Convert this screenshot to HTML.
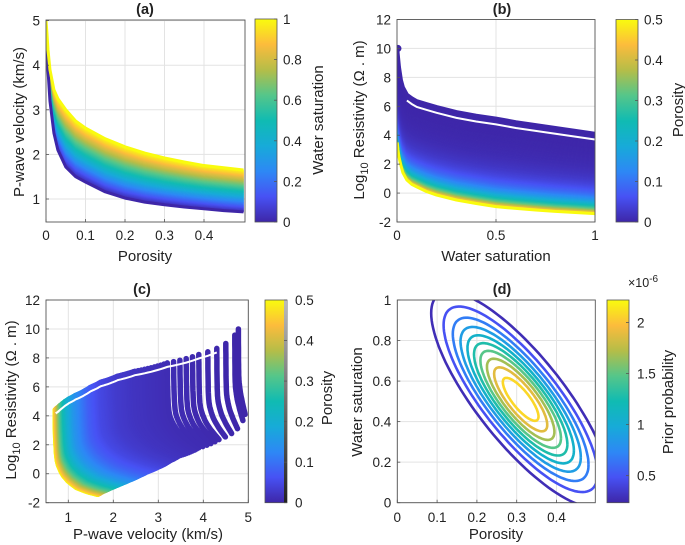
<!DOCTYPE html>
<html><head><meta charset="utf-8">
<style>
html,body{margin:0;padding:0;background:#fff;}
svg{display:block;font-family:"Liberation Sans",Arial,sans-serif;}
text{fill:#222;}
</style></head>
<body>
<svg id="chart" width="685" height="545" viewBox="0 0 685 545" xmlns="http://www.w3.org/2000/svg">
<defs>
<clipPath id="clipA"><rect x="46" y="20" width="199" height="202"/></clipPath>
<clipPath id="clipB"><rect x="397" y="19.5" width="198" height="202.5"/></clipPath>
<clipPath id="clipC"><rect x="46" y="300" width="202.3" height="202.7"/></clipPath>
<clipPath id="clipD"><rect x="397.3" y="300" width="198" height="202.7"/></clipPath>
</defs>
</svg>
<script>
// ---------- data ----------
// Panel (a): porosity samples, P-wave velocity at Sw=1 (upper) and Sw=0 (lower)
const phiA   = [0, 0.0025, 0.005, 0.01, 0.02, 0.03, 0.05, 0.075, 0.1, 0.15, 0.2, 0.25, 0.3, 0.35, 0.4, 0.45, 0.5];
const velUpA = [5.0, 4.7, 4.35, 3.9, 3.45, 3.25, 3.0, 2.75, 2.59, 2.35, 2.17, 2.03, 1.92, 1.83, 1.75, 1.7, 1.65];
const velLoA = [4.9, 4.4, 3.9, 3.2, 2.48, 2.1, 1.72, 1.5, 1.38, 1.16, 1.02, 0.93, 0.87, 0.82, 0.78, 0.74, 0.71];
// Panel (b): water saturation samples, log10 resistivity at min porosity (top) and porosity 0.5 (bottom)
const swB    = [0.001, 0.005, 0.01, 0.02, 0.03, 0.05, 0.075, 0.1, 0.15, 0.2, 0.3, 0.4, 0.5, 0.6, 0.7, 0.8, 0.9, 1.0];
const resTopB= [10.0, 9.4, 8.7, 7.8, 7.3, 6.8, 6.55, 6.35, 6.15, 5.95, 5.6, 5.35, 5.15, 4.9, 4.7, 4.5, 4.3, 4.1];
const resBotB= [3.5, 3.0, 2.5, 1.9, 1.4, 0.9, 0.6, 0.43, 0.1, -0.14, -0.48, -0.72, -0.94, -1.06, -1.17, -1.27, -1.34, -1.42];
const phiMin = 0.0006;
const phiMax = 0.5;
// Panel (d): prior Gaussian parameters and contour levels (x1e-6)
const priorMean  = [0.31, 0.51];
const priorStd   = [0.11, 0.26];
const priorRho   = -0.8;
const priorPeak  = 2.26;
const cbarMin    = 0.235;
const cbarMax    = 2.22;
const contourLevels = [0.28, 0.48, 0.68, 0.88, 1.08, 1.28, 1.48, 1.68, 1.88, 2.08];
// tick labels
const ticksAx = [0, 0.1, 0.2, 0.3, 0.4];
const ticksAy = [1, 2, 3, 4, 5];
const ticksBx = [0, 0.5, 1];
const ticksRy = [-2, 0, 2, 4, 6, 8, 10, 12];
const ticksCx = [1, 2, 3, 4, 5];
const ticksDx = [0, 0.1, 0.2, 0.3, 0.4];
const ticksDy = [0, 0.2, 0.4, 0.6, 0.8, 1];
const cbTicksA = [0, 0.2, 0.4, 0.6, 0.8, 1];
const cbTicksPor = [0, 0.1, 0.2, 0.3, 0.4, 0.5];
const cbTicksD = [0.5, 1, 1.5, 2];

// ---------- helpers ----------
const NS = "http://www.w3.org/2000/svg";
const svg = document.getElementById('chart');
function mk(tag, name, attrs, parent){
  const e = document.createElementNS(NS, tag);
  
  
  for (const k in attrs) e.setAttribute(k, attrs[k]);
  (parent || svg).appendChild(e);
  return e;
}
const PAR = ['#3e26a8','#4752f4','#2d88f5','#17abd8','#10bbb2','#55c68a','#b5bd48','#fcbc3c','#f9fb0e'];
function hex(h){return [parseInt(h.substr(1,2),16),parseInt(h.substr(3,2),16),parseInt(h.substr(5,2),16)];}
function parula(t){
  t = Math.max(0, Math.min(1, t));
  const p = t*(PAR.length-1), i = Math.min(PAR.length-2, Math.floor(p)), f = p - i;
  const a = hex(PAR[i]), b = hex(PAR[i+1]);
  return 'rgb(' + [0,1,2].map(k => Math.round(a[k]+(b[k]-a[k])*f)).join(',') + ')';
}
function interp(xs, ys, x){
  if (x <= xs[0]) return ys[0];
  for (let i=1;i<xs.length;i++){ if (x <= xs[i]) { const f=(x-xs[i-1])/(xs[i]-xs[i-1]); return ys[i-1]+f*(ys[i]-ys[i-1]); } }
  return ys[ys.length-1];
}
function lin(d0,d1,r0,r1){ return v => r0 + (v-d0)/(d1-d0)*(r1-r0); }

// scales
const xA = lin(0, 0.5, 46, 243.5), yA = lin(1, 5, 199, 20.6);
const xB = lin(0, 1, 397, 595),    yB = lin(-2, 12, 222, 19.5);
const xC = lin(1, 5, 68.3, 248.3), yC = lin(-2, 12, 502.7, 300);
const xD = lin(0, 0.4, 397.3, 556.5), yD = lin(0, 1, 502.7, 300);

function grid(name, box, xt, yt, xs, ys){
  const g = mk('g', name + '-grid', {});
  xt.forEach(v => { mk('line', name + '-x-gridline', {x1:xs(v),x2:xs(v),y1:box[1],y2:box[3],stroke:'#e3e3e3','stroke-width':1}, g); });
  yt.forEach(v => { mk('line', name + '-y-gridline', {x1:box[0],x2:box[2],y1:ys(v),y2:ys(v),stroke:'#e3e3e3','stroke-width':1}, g); });
}
function frame(name, box, xt, yt, xs, ys, xfmt, yfmt, tickY){
  const g = mk('g', name + '-axes', {});
  mk('rect', name + '-axes-box', {x:box[0],y:box[1],width:box[2]-box[0],height:box[3]-box[1],fill:'none',stroke:'#555','stroke-width':0.9}, g);
  xt.forEach(v => {
    mk('line', name + '-x-tick', {x1:xs(v),x2:xs(v),y1:box[3],y2:box[3]-3,stroke:'#555','stroke-width':0.8}, g);
    const t = mk('text', name + '-x-tick-label', {x:xs(v),y:tickY,'text-anchor':'middle','font-size':13.5}, g);
    t.textContent = xfmt(v);
  });
  yt.forEach(v => {
    mk('line', name + '-y-tick', {x1:box[0],x2:box[0]+3,y1:ys(v),y2:ys(v),stroke:'#555','stroke-width':0.8}, g);
    const t = mk('text', name + '-y-tick-label', {x:box[0]-6,y:ys(v)+5,'text-anchor':'end','font-size':13.5}, g);
    t.textContent = yfmt(v);
  });
}
function text(name, x, y, str, opts){
  const t = mk('text', name, Object.assign({x:x,y:y,'text-anchor':'middle','font-size':15}, opts||{}));
  t.textContent = str;
  return t;
}
function vtext(name, x, y, str, size){
  const t = mk('text', name, {x:0,y:0,'text-anchor':'middle','font-size':size||15,transform:'translate('+x+','+y+') rotate(-90)'});
  t.textContent = str;
  return t;
}
let gid = 0;
function colorbar(name, x0, x1, y0, y1, ticks, vmin, vmax, labelX, grayStrip){
  const id = 'cbg' + (gid++);
  const defs = svg.querySelector('defs');
  const lg = mk('linearGradient', name + '-gradient', {id:id,x1:0,y1:1,x2:0,y2:0}, defs);
  for (let i=0;i<=24;i++){ mk('stop', name + '-gradient-stop', {offset:(i/24),'stop-color':parula(i/24)}, lg); }
  const g = mk('g', name, {});
  mk('rect', name + '-bar', {x:x0,y:y0,width:x1-x0,height:y1-y0,fill:'url(#'+id+')',stroke:'#555','stroke-width':0.8}, g);
  if (grayStrip){
    const gid2 = 'cbgray' + (gid++);
    const lg2 = mk('linearGradient', name + '-gray-gradient', {id:gid2,x1:0,y1:1,x2:0,y2:0}, defs);
    mk('stop', name + '-gray-stop', {offset:0,'stop-color':'#222'}, lg2);
    mk('stop', name + '-gray-stop', {offset:1,'stop-color':'#bbb'}, lg2);
    mk('rect', name + '-gray-strip', {x:x1-3,y:y0,width:3,height:y1-y0,fill:'url(#'+gid2+')'}, g);
  }
  const s = lin(vmin, vmax, y1, y0);
  ticks.forEach(v => {
    mk('line', name + '-tick', {x1:x1-3,x2:x1,y1:s(v),y2:s(v),stroke:'#555','stroke-width':0.8}, g);
    const t = mk('text', name + '-tick-label', {x:labelX,y:s(v)+5,'font-size':13.5}, g);
    t.textContent = String(v);
  });
}
const fmt = v => String(v);

// ================= Panel (a) =================
const boxA = [46, 20, 245, 222];
grid('panel-a', boxA, ticksAx, ticksAy, xA, yA);
const gA = mk('g', 'panel-a-scatter', {'clip-path':'url(#clipA)'});
const NA = 50;
for (let i=0;i<NA;i++){
  const s0 = i/NA, s1 = (i+1)/NA;
  const pts = [];
  phiA.forEach((p,k) => pts.push(xA(p)+','+yA(velLoA[k]+s1*(velUpA[k]-velLoA[k]))));
  for (let k=phiA.length-1;k>=0;k--) pts.push(xA(phiA[k])+','+yA(velLoA[k]+s0*(velUpA[k]-velLoA[k])));
  const c = parula((s0+s1)/2);
  mk('polygon', 'panel-a-saturation-band', {points:pts.join(' '),fill:c,stroke:c,'stroke-width':0.6}, gA);
}
mk('polyline', 'panel-a-lower-edge', {points:phiA.map((p,k)=>xA(p)+','+yA(velLoA[k])).join(' '),fill:'none',stroke:parula(0),'stroke-width':3,'stroke-linejoin':'round'}, gA);
mk('polyline', 'panel-a-upper-edge', {points:phiA.map((p,k)=>xA(p)+','+yA(velUpA[k])).join(' '),fill:'none',stroke:parula(1),'stroke-width':3,'stroke-linejoin':'round'}, gA);
frame('panel-a', boxA, ticksAx, ticksAy, xA, yA, fmt, fmt, 240);
text('panel-a-title', 145, 14, '(a)', {'font-weight':'bold','font-size':14.5});
text('panel-a-x-axis-title', 145, 261, 'Porosity');
vtext('panel-a-y-axis-title', 24, 122, 'P-wave velocity (km/s)');
colorbar('panel-a-colorbar', 255, 277, 19, 222, cbTicksA, 0, 1, 283, false);
vtext('panel-a-colorbar-title', 323, 120, 'Water saturation');

// ================= Panel (b) =================
const boxB = [397, 19.5, 595, 222];
function resAt(sw, phi){
  const top = interp(swB, resTopB, sw), bot = interp(swB, resBotB, sw);
  const t = Math.log(phiMax/phi)/Math.log(phiMax/phiMin);
  return bot + Math.max(0, Math.min(1, t))*(top-bot);
}
grid('panel-b', boxB, ticksBx, ticksRy, xB, yB);
const gB = mk('g', 'panel-b-scatter', {'clip-path':'url(#clipB)'});
const NB = 80;
for (let i=0;i<NB;i++){
  const t0 = i/NB, t1 = (i+1)/NB;
  const pts = [];
  swB.forEach((s,k) => pts.push(xB(s)+','+yB(resBotB[k]+t1*(resTopB[k]-resBotB[k]))));
  for (let k=swB.length-1;k>=0;k--) pts.push(xB(swB[k])+','+yB(resBotB[k]+t0*(resTopB[k]-resBotB[k])));
  const phi = phiMax*Math.pow(phiMin/phiMax, (t0+t1)/2);
  const c = parula(phi/phiMax);
  mk('polygon', 'panel-b-porosity-band', {points:pts.join(' '),fill:c,stroke:c,'stroke-width':0.6}, gB);
}
mk('polyline', 'panel-b-top-edge', {points:swB.map((s,k)=>xB(s)+','+yB(resTopB[k])).join(' '),fill:'none',stroke:parula(0),'stroke-width':4,'stroke-linejoin':'round'}, gB);
mk('polyline', 'panel-b-bottom-edge', {points:swB.map((s,k)=>xB(s)+','+yB(resBotB[k])).join(' '),fill:'none',stroke:parula(1),'stroke-width':3,'stroke-linejoin':'round'}, gB);
const gapB = swB.filter(s => s >= 0.05);
mk('polyline', 'panel-b-gap-line', {points:gapB.map(s=>xB(s)+','+yB(interp(swB,resTopB,s)-0.4)).join(' '),fill:'none',stroke:'#fff','stroke-width':2}, gB);
mk('circle', 'panel-b-max-point', {cx:xB(0)+1,cy:yB(resTopB[0]),r:3.5,fill:parula(0)}, gB);
frame('panel-b', boxB, ticksBx, ticksRy, xB, yB, fmt, fmt, 240);
text('panel-b-title', 502, 14, '(b)', {'font-weight':'bold','font-size':14.5});
text('panel-b-x-axis-title', 496, 261, 'Water saturation');
(function(){
  const t = mk('text', 'panel-b-y-axis-title', {x:0,y:0,'text-anchor':'middle','font-size':15,transform:'translate(364,120) rotate(-90)'});
  t.innerHTML = 'Log<tspan font-size="11" dy="4">10</tspan><tspan dy="-4"> Resistivity (Ω . m)</tspan>';
})();
colorbar('panel-b-colorbar', 616, 638, 19.5, 222, cbTicksPor, 0, 0.5, 644, false);
vtext('panel-b-colorbar-title', 683, 110, 'Porosity');

// ================= Panel (c) =================
const boxC = [46, 300, 248.3, 502.7];
grid('panel-c', boxC, ticksCx, ticksRy, xC, yC);
const gC = mk('g', 'panel-c-scatter', {'clip-path':'url(#clipC)'});
const phiGridC = [phiMin];
for (let p=0.001; p<=0.0501; p+=0.001) phiGridC.push(+p.toFixed(4));
for (let p=0.0525; p<=0.5001; p+=0.0025) phiGridC.push(+p.toFixed(4));
const swGridC = [0.0005, 0.001, 0.002, 0.003, 0.005, 0.0075, 0.01, 0.015, 0.02, 0.025];
for (let s=0.03; s<=1.0001; s+=0.01) swGridC.push(+s.toFixed(3));
function velAt(phi, sw){ const up = interp(phiA, velUpA, phi), lo = interp(phiA, velLoA, phi); return lo + sw*(up-lo); }
function resC(sw, phi){ return resAt(sw, phi) + (sw < 0.001 ? 0.9*(1 - Math.log(phiMax/phi)/Math.log(phiMax/phiMin)) : 0); }
for (let i=phiGridC.length-1;i>=0;i--){
  const phi = phiGridC[i];
  const c = parula(phi/phiMax);
  const pts = swGridC.map(sw => xC(velAt(phi, sw)).toFixed(1)+','+yC(resC(sw, phi)).toFixed(1));
  mk('polyline', 'panel-c-porosity-trace', {points:pts.join(' '),fill:'none',stroke:c,'stroke-width':5.5,'stroke-linecap':'round','stroke-linejoin':'round'}, gC);
}
const gapPhiC = phiGridC.filter(p => p >= 0.003 && p <= 0.47);
mk('polyline', 'panel-c-gap-line', {points:gapPhiC.map(p => xC(velAt(p,0.0005)).toFixed(1)+','+(yC(resC(0.0005,p))+4).toFixed(1)).join(' '),fill:'none',stroke:'#fff','stroke-width':2}, gC);
frame('panel-c', boxC, ticksCx, ticksRy, xC, yC, fmt, fmt, 522);
text('panel-c-title', 142, 294, '(c)', {'font-weight':'bold','font-size':14.5});
text('panel-c-x-axis-title', 148, 539, 'P-wave velocity (km/s)');
(function(){
  const t = mk('text', 'panel-c-y-axis-title', {x:0,y:0,'text-anchor':'middle','font-size':15,transform:'translate(16,400) rotate(-90)'});
  t.innerHTML = 'Log<tspan font-size="11" dy="4">10</tspan><tspan dy="-4"> Resistivity (Ω . m)</tspan>';
})();
colorbar('panel-c-colorbar', 265, 287, 300, 502.7, cbTicksPor, 0, 0.5, 295, true);
vtext('panel-c-colorbar-title', 332, 398, 'Porosity');

// ================= Panel (d) =================
const boxD = [397.3, 300, 595.3, 502.7];
grid('panel-d', boxD, ticksDx, ticksDy, xD, yD);
const gD = mk('g', 'panel-d-contours', {'clip-path':'url(#clipD)'});
contourLevels.forEach(L => {
  const k = Math.sqrt(2*Math.log(priorPeak/L));
  const sq = Math.sqrt(1-priorRho*priorRho);
  const pts = [];
  for (let j=0;j<=120;j++){
    const a = j/120*2*Math.PI;
    const px = priorMean[0] + k*priorStd[0]*Math.cos(a);
    const py = priorMean[1] + k*priorStd[1]*(priorRho*Math.cos(a) + sq*Math.sin(a));
    pts.push(xD(px).toFixed(1)+','+yD(py).toFixed(1));
  }
  mk('polyline', 'panel-d-contour-line', {points:pts.join(' '),fill:'none',stroke:parula((L-cbarMin)/(cbarMax-cbarMin)),'stroke-width':2.6}, gD);
});
frame('panel-d', boxD, ticksDx, ticksDy, xD, yD, fmt, fmt, 522);
text('panel-d-title', 502, 294, '(d)', {'font-weight':'bold','font-size':14.5});
text('panel-d-x-axis-title', 496, 539, 'Porosity');
vtext('panel-d-y-axis-title', 362, 402, 'Water saturation');
colorbar('panel-d-colorbar', 607, 629, 300, 502.7, cbTicksD, cbarMin, cbarMax, 637, false);
(function(){
  const t = mk('text', 'panel-d-colorbar-exponent', {x:628,y:287,'font-size':12.5});
  t.innerHTML = '×10<tspan font-size="10" dy="-5">-6</tspan>';
})();
vtext('panel-d-colorbar-title', 673, 402, 'Prior probability');
</script>
</body></html>
